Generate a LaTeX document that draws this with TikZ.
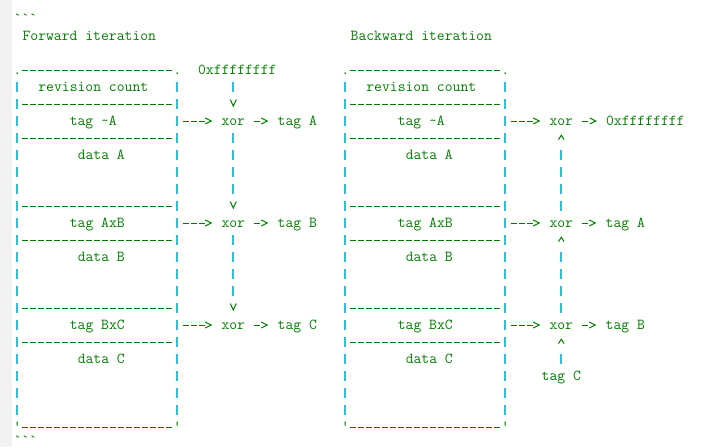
\documentclass[tikz,border=0pt]{standalone}
\usepackage{fontspec}
\setmonofont{Latin Modern Mono}
\usetikzlibrary{arrows.meta}
\definecolor{asciigreen}{RGB}{0,128,0}
\definecolor{asciicyan}{RGB}{48,192,214}
\definecolor{gutter}{RGB}{242,242,242}
\tikzset{
  txt/.style={font=\ttfamily\fontsize{11.43pt}{13pt}\selectfont, text=asciigreen,
    inner sep=0pt, text height=6pt, text depth=0pt, anchor=base, yshift=-3pt},
  boxarea/.style={minimum width=120pt, minimum height=267.75pt, inner sep=0pt},
  hrule/.style={draw=asciigreen, line width=0.75pt, dash pattern=on 4.5pt off 1.5pt},
  vrule/.style={draw=asciicyan, line width=1.3pt, dash pattern=on 7.5pt off 5.25pt},
  feed/.style={draw=asciigreen, line width=0.75pt, -{Straight Barb[length=4.5pt,width=4.5pt]},
    dash pattern=on 4.5pt off 1.5pt on 4.5pt off 1.5pt on 4.5pt off 20pt,
    shorten <=3.75pt, shorten >=6.75pt},
  pass/.style={draw=asciigreen, line width=0.75pt, -{Straight Barb[length=4.5pt,width=4.5pt]},
    dash pattern=on 4.5pt off 20pt, shorten <=6.75pt, shorten >=6.75pt},
  bars/.style={draw=asciicyan, line width=1.3pt, shorten <=6pt,
    dash pattern=on 7.5pt off 5.25pt on 7.5pt off 5.25pt on 7.5pt off 5.25pt on 7.5pt off 30pt},
  onebar/.style={bars, dash pattern=on 7.5pt off 30pt},
  tipdown/.style={-{Straight Barb[length=4.9pt,width=4.5pt,line width=0.75pt,color=asciigreen]},
    shorten >=7.1pt},
  tipup/.style={-{Straight Barb[length=3.3pt,width=4.2pt,line width=0.75pt,color=asciigreen]},
    shorten >=6.75pt},
}
\begin{document}
\begin{tikzpicture}[x=6pt, y=-12.75pt]
  \fill[white] (-2.1625,-1.1176) rectangle (86.3375,25.1765);
  \fill[gutter] (-2.1625,-1.1176) rectangle (-0.6625,25.1765);
  \useasboundingbox (-2.1625,-1.1176) rectangle (86.3375,25.1765);

  \node[txt] (fenceT) at (1,0) {```};
  \node[txt] (fenceB) at (1,24.85) {```};

  % the two frames
  \foreach \c/\n in {0/F,41/B} {
    \draw[vrule] (\c,3.706) -- (\c,23.294);
    \draw[vrule] (\c+20,3.706) -- (\c+20,23.294);
    \foreach \r in {3,5,7,11,13,17,19,24}
      \draw[hrule] (\c+0.625,\r) -- (\c+19.375,\r);
    \node[txt] (dotL\n) at (\c,3) {.};
    \node[txt] (dotR\n) at (\c+20,3) {.};
    \node[txt] (tickL\n) at (\c,24) {'};
    \node[txt] (tickR\n) at (\c+20,24) {'};
  }

  % forward iteration
  \node[boxarea] (boxF) at (10,13.5) {};
  \node[txt] (titleF) at (9,1) {Forward iteration};
  \node[txt] (revF) at (9.5,4) {revision count};
  \node[txt] (tagFA) at (9.5,6) {tag \textasciitilde A};
  \node[txt] (dataFA) at (10.5,8) {data A};
  \node[txt] (tagFB) at (10,12) {tag AxB};
  \node[txt] (dataFB) at (10.5,14) {data B};
  \node[txt] (tagFC) at (10,18) {tag BxC};
  \node[txt] (dataFC) at (10.5,20) {data C};

  \node[txt] (startF) at (27.5,3) {0xffffffff};
  \node[txt] (xorFA) at (27,6) {xor};
  \node[txt] (outFA) at (35,6) {tag A};
  \node[txt] (xorFB) at (27,12) {xor};
  \node[txt] (outFB) at (35,12) {tag B};
  \node[txt] (xorFC) at (27,18) {xor};
  \node[txt] (outFC) at (35,18) {tag C};

  \draw[feed] (boxF.east |- tagFA) -- (xorFA);
  \draw[feed] (boxF.east |- tagFB) -- (xorFB);
  \draw[feed] (boxF.east |- tagFC) -- (xorFC);
  \draw[pass] (xorFA) -- (outFA);
  \draw[pass] (xorFB) -- (outFB);
  \draw[pass] (xorFC) -- (outFC);
  \draw[onebar, tipdown] (startF.south -| xorFA) -- (xorFA);
  \draw[bars, tipdown] (xorFA) -- (xorFB);
  \draw[bars, tipdown] (xorFB) -- (xorFC);

  % backward iteration
  \node[boxarea] (boxB) at (51,13.5) {};
  \node[txt] (titleB) at (50.5,1) {Backward iteration};
  \node[txt] (revB) at (50.5,4) {revision count};
  \node[txt] (tagBA) at (50.5,6) {tag \textasciitilde A};
  \node[txt] (dataBA) at (51.5,8) {data A};
  \node[txt] (tagBB) at (51,12) {tag AxB};
  \node[txt] (dataBB) at (51.5,14) {data B};
  \node[txt] (tagBC) at (51,18) {tag BxC};
  \node[txt] (dataBC) at (51.5,20) {data C};

  \node[txt] (xorBA) at (68,6) {xor};
  \node[txt] (outBA) at (78.5,6) {0xffffffff};
  \node[txt] (xorBB) at (68,12) {xor};
  \node[txt] (outBB) at (76,12) {tag A};
  \node[txt] (xorBC) at (68,18) {xor};
  \node[txt] (outBC) at (76,18) {tag B};
  \node[txt] (startB) at (68,21) {tag C};

  \draw[feed] (boxB.east |- tagBA) -- (xorBA);
  \draw[feed] (boxB.east |- tagBB) -- (xorBB);
  \draw[feed] (boxB.east |- tagBC) -- (xorBC);
  \draw[pass] (xorBA) -- (outBA);
  \draw[pass] (xorBB) -- (outBB);
  \draw[pass] (xorBC) -- (outBC);
  \draw[bars, tipup] (xorBB) -- (xorBA);
  \draw[bars, tipup] (xorBC) -- (xorBB);
  \draw[onebar, tipup] (startB) -- (xorBC);
\end{tikzpicture}
\end{document}
